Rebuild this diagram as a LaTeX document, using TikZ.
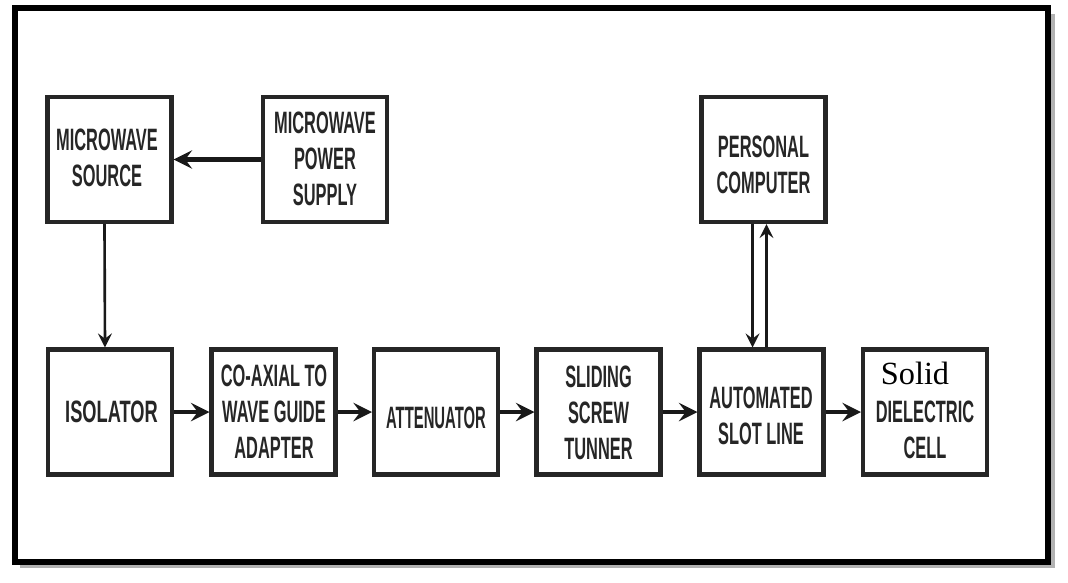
\documentclass[tikz,border=0pt]{standalone}
\usepackage{fontspec}
\setmainfont{Liberation Sans}
\newfontfamily\boxfont[FakeStretch=0.53]{Liberation Sans}
\newfontfamily\boxfontwide[FakeStretch=0.59]{Liberation Sans}
\newfontfamily\boxfontnarrow[FakeStretch=0.48]{Liberation Sans}
\newfontfamily\solidfont{Liberation Serif}
\usetikzlibrary{arrows}
\tikzset{
  block/.style={draw=black!85,line width=1.15pt,minimum width=1.24cm,minimum height=1.25cm,inner sep=0pt},
  blocktext/.style={align=center,font=\boxfont\bfseries\fontsize{8.8}{10.2}\selectfont,text=black!85,inner sep=0pt},
  flowthick/.style={-stealth,line width=1.3pt,black!90},
  flowthin/.style={-stealth,line width=0.75pt,black!90},
}
\begin{document}
\begin{tikzpicture}
            \useasboundingbox (0,0) rectangle (10.68,5.82);
            \draw[line width=1pt,black!30] (10.53,5.68)--(10.53,0.16)--(0.2,0.16);
            \draw[line width=1.75pt] (0.15,5.74) rectangle (10.48,0.2);
            \node[block] (source) at (1.095,4.225) {};
            \node[block] (supply) at (3.25,4.225) {};
            \node[block] (computer) at (7.635,4.225) {};
            \node[block] (isolator) at (1.10,1.70) {};
            \node[block] (adapter) at (2.735,1.70) {};
            \node[block] (attenuator) at (4.36,1.70) {};
            \node[block] (tunner) at (5.985,1.70) {};
            \node[block] (slotline) at (7.615,1.70) {};
            \node[block] (cell) at (9.25,1.70) {};
            \node[blocktext] (sourcetext) at (1.07,4.24) {MICROWAVE\\SOURCE};
            \node[blocktext] (supplytext) at (3.25,4.23) {MICROWAVE\\POWER\\SUPPLY};
            \node[blocktext] (computertext) at (7.635,4.175) {PERSONAL\\COMPUTER};
            \node[blocktext,font=\boxfontwide\bfseries\fontsize{8.8}{10.2}\selectfont] (isolatortext) at (1.115,1.70) {ISOLATOR};
            \node[blocktext] (adaptertext) at (2.74,1.70) {CO-AXIAL TO\\WAVE GUIDE\\ADAPTER};
            \node[blocktext,font=\boxfontnarrow\bfseries\fontsize{8.8}{10.2}\selectfont] (attenuatortext) at (4.36,1.64) {ATTENUATOR};
            \node[blocktext] (tunnertext) at (5.985,1.69) {SLIDING\\SCREW\\TUNNER};
            \node[blocktext] (slotlinetext) at (7.61,1.66) {AUTOMATED\\SLOT LINE};
            \node[blocktext] (celltext) at (9.25,1.52) {DIELECTRIC\\CELL};
            \node[font=\solidfont\fontsize{9.2}{10}\selectfont,inner sep=0pt] (solidtext) at (9.15,2.09) {Solid};
            \draw[flowthick] (supply)--(source);
            \draw[flowthin] ([xshift=-0.05cm]source.south)--([xshift=-0.05cm]isolator.north);
            \draw[flowthick] (isolator)--(adapter);
            \draw[flowthick] (adapter)--(attenuator);
            \draw[flowthick] (attenuator)--(tunner);
            \draw[flowthick] (tunner)--(slotline);
            \draw[flowthick] (slotline)--(cell);
            \draw[flowthin] ([xshift=-0.11cm]computer.south)--([xshift=-0.09cm]slotline.north);
            \draw[flowthin] ([xshift=0.05cm]slotline.north)--([xshift=0.03cm]computer.south);
        \end{tikzpicture}
\end{document}
